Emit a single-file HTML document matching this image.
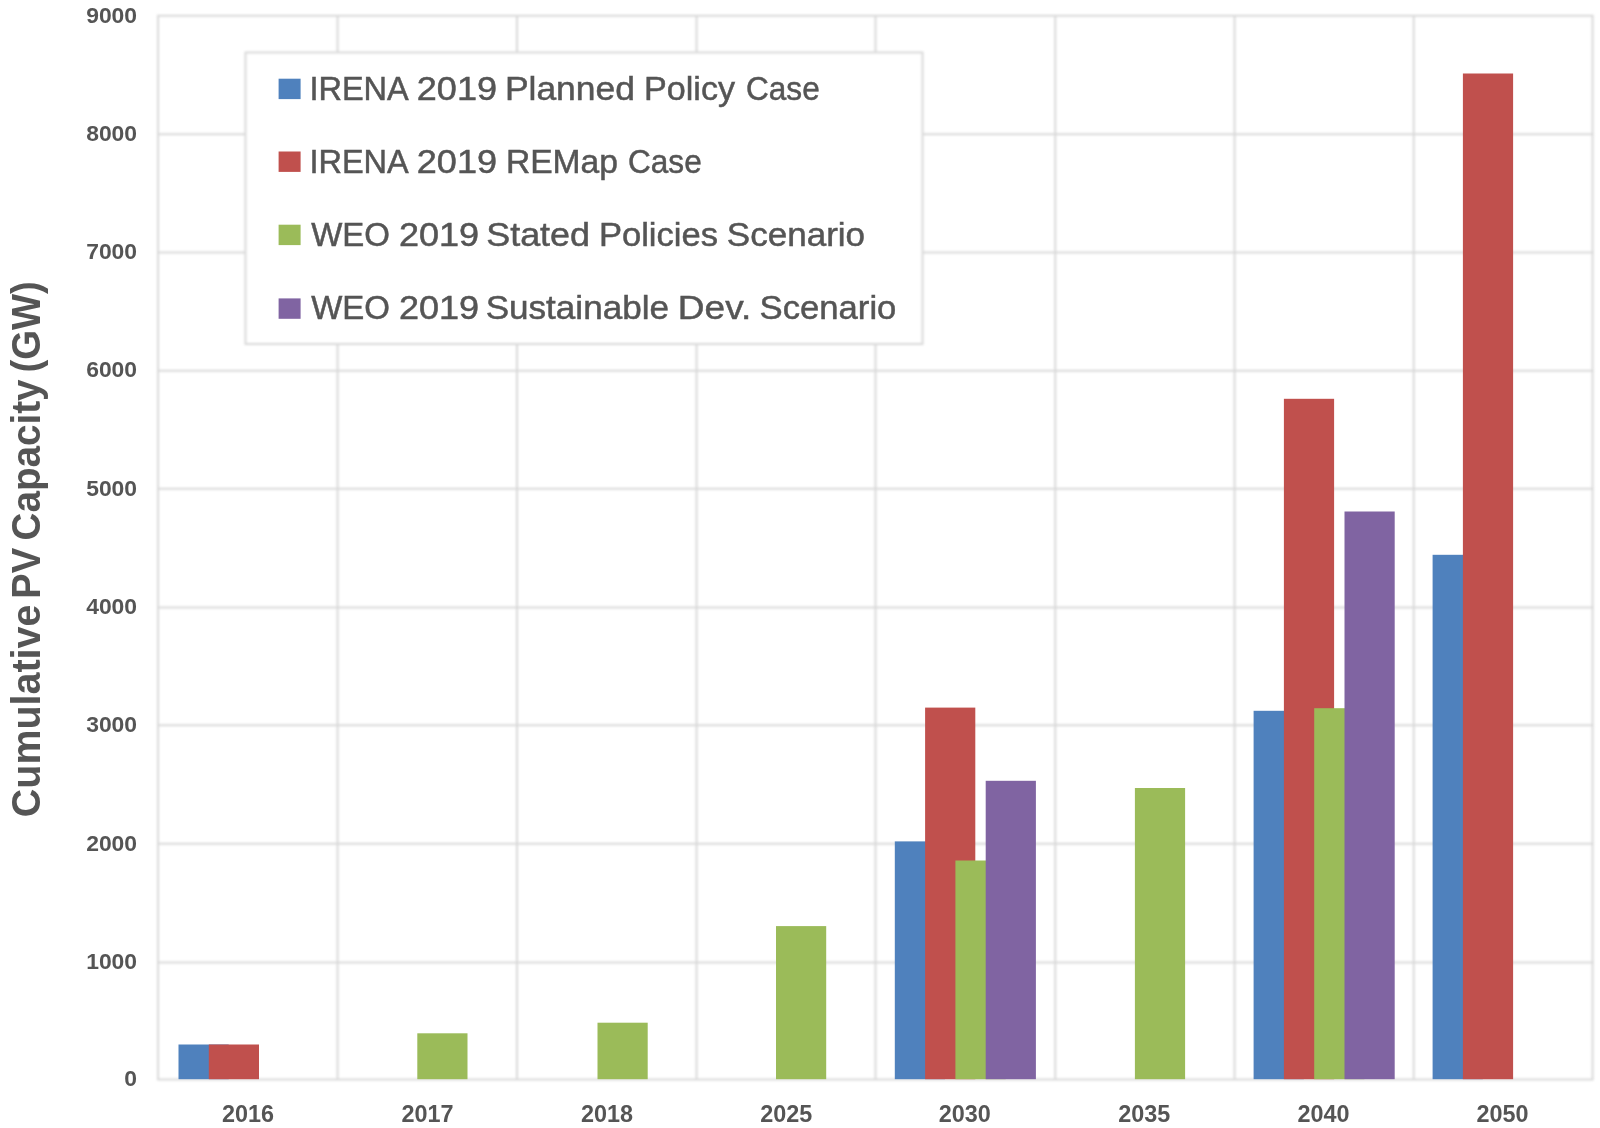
<!DOCTYPE html>
<html lang="en">
<head>
<meta charset="utf-8">
<title>Cumulative PV Capacity (GW)</title>
<style>
html,body{margin:0;padding:0;background:#fff;}
body{width:1600px;height:1128px;overflow:hidden;}
svg{display:block;}
#grid,#lbox{filter:blur(0.8px);}
#bars,#sw{filter:blur(0.6px);}
#yticks,#xticks,#ytitle,#ltext{filter:blur(0.7px);}
text{font-family:"Liberation Sans",sans-serif;fill:#555555;}
.tick{font-weight:bold;font-size:22.9px;}
.xt{font-weight:bold;font-size:23.4px;}
.leg{font-size:33.6px;stroke:#555555;stroke-width:0.5px;}
.yt{font-weight:bold;font-size:41px;}
</style>
</head>
<body>
<svg width="1600" height="1128" viewBox="0 0 1600 1128">
<rect x="0" y="0" width="1600" height="1128" fill="#ffffff"/>
<g id="chart">

<g id="grid" stroke="#d9d9d9" stroke-width="2" fill="none">
<line x1="157.1" y1="1079.6" x2="1593.5" y2="1079.6"/>
<line x1="157.1" y1="962.5" x2="1593.5" y2="962.5"/>
<line x1="157.1" y1="843.8" x2="1593.5" y2="843.8"/>
<line x1="157.1" y1="725.3" x2="1593.5" y2="725.3"/>
<line x1="157.1" y1="607.4" x2="1593.5" y2="607.4"/>
<line x1="157.1" y1="488.8" x2="1593.5" y2="488.8"/>
<line x1="157.1" y1="370.7" x2="1593.5" y2="370.7"/>
<line x1="157.1" y1="252.6" x2="1593.5" y2="252.6"/>
<line x1="157.1" y1="134.3" x2="1593.5" y2="134.3"/>
<line x1="157.1" y1="15.8" x2="1593.5" y2="15.8"/>
<line x1="158.1" y1="15.8" x2="158.1" y2="1079.6"/>
<line x1="337.6" y1="15.8" x2="337.6" y2="1079.6"/>
<line x1="517.0" y1="15.8" x2="517.0" y2="1079.6"/>
<line x1="696.6" y1="15.8" x2="696.6" y2="1079.6"/>
<line x1="875.5" y1="15.8" x2="875.5" y2="1079.6"/>
<line x1="1055.3" y1="15.8" x2="1055.3" y2="1079.6"/>
<line x1="1234.6" y1="15.8" x2="1234.6" y2="1079.6"/>
<line x1="1413.7" y1="15.8" x2="1413.7" y2="1079.6"/>
<line x1="1592.6" y1="15.8" x2="1592.6" y2="1079.6"/>
</g>
<g id="bars">
<rect x="178.5" y="1044.5" width="50.2" height="34.7" fill="#4f81bd"/>
<rect x="208.8" y="1044.5" width="50.2" height="34.7" fill="#c0504d"/>
<rect x="417.3" y="1033.3" width="50.2" height="45.9" fill="#9bbb59"/>
<rect x="597.5" y="1022.7" width="50.2" height="56.5" fill="#9bbb59"/>
<rect x="776.0" y="926.1" width="50.2" height="153.1" fill="#9bbb59"/>
<rect x="894.8" y="841.4" width="50.2" height="237.8" fill="#4f81bd"/>
<rect x="925.1" y="707.6" width="50.2" height="371.6" fill="#c0504d"/>
<rect x="955.4" y="860.5" width="50.2" height="218.7" fill="#9bbb59"/>
<rect x="985.7" y="780.8" width="50.2" height="298.4" fill="#8064a2"/>
<rect x="1134.9" y="788.0" width="50.2" height="291.2" fill="#9bbb59"/>
<rect x="1253.6" y="710.8" width="50.2" height="368.4" fill="#4f81bd"/>
<rect x="1283.9" y="398.8" width="50.2" height="680.4" fill="#c0504d"/>
<rect x="1314.2" y="708.2" width="50.2" height="371.0" fill="#9bbb59"/>
<rect x="1344.5" y="511.5" width="50.2" height="567.7" fill="#8064a2"/>
<rect x="1432.6" y="554.8" width="50.2" height="524.4" fill="#4f81bd"/>
<rect x="1462.9" y="73.5" width="50.2" height="1005.7" fill="#c0504d"/>
</g>
<g id="yticks" class="tick" text-anchor="end">
<text x="137.1" y="1086.3">0</text>
<text x="137.1" y="969.2">1000</text>
<text x="137.1" y="850.5">2000</text>
<text x="137.1" y="732.0">3000</text>
<text x="137.1" y="614.1">4000</text>
<text x="137.1" y="495.5">5000</text>
<text x="137.1" y="377.4">6000</text>
<text x="137.1" y="259.3">7000</text>
<text x="137.1" y="141.0">8000</text>
<text x="137.1" y="22.5">9000</text>
</g>
<g id="xticks" class="xt" text-anchor="middle">
<text x="248.1" y="1121.7">2016</text>
<text x="427.5" y="1121.7">2017</text>
<text x="607.0" y="1121.7">2018</text>
<text x="786.2" y="1121.7">2025</text>
<text x="964.7" y="1121.7">2030</text>
<text x="1144.2" y="1121.7">2035</text>
<text x="1323.5" y="1121.7">2040</text>
<text x="1502.5" y="1121.7">2050</text>
</g>
<g id="ytitle"><text class="yt" transform="rotate(-90)" y="40.3"><tspan x="-817.2" textLength="212.6" lengthAdjust="spacingAndGlyphs">Cumulative</tspan> <tspan x="-598.7" textLength="50.8" lengthAdjust="spacingAndGlyphs">PV</tspan> <tspan x="-540.4" textLength="161.0" lengthAdjust="spacingAndGlyphs">Capacity</tspan> <tspan x="-372.6" textLength="91.4" lengthAdjust="spacingAndGlyphs">(GW)</tspan></text></g>
<g id="legend">
<g id="lbox"><rect x="245.5" y="52.5" width="677" height="291.5" fill="#ffffff" stroke="#d9d9d9" stroke-width="2"/></g>
<g id="sw">
<rect x="278.6" y="78.7" width="22" height="20.4" fill="#4f81bd"/>
<rect x="278.6" y="151.5" width="22" height="20.4" fill="#c0504d"/>
<rect x="278.6" y="224.7" width="22" height="20.4" fill="#9bbb59"/>
<rect x="278.6" y="298.4" width="22" height="20.4" fill="#8064a2"/>
</g>
<g id="ltext">
<text class="leg" y="99.7"><tspan x="309.4" textLength="97.6" lengthAdjust="spacingAndGlyphs">IRENA</tspan> <tspan x="416.8" textLength="80.2" lengthAdjust="spacingAndGlyphs">2019</tspan> <tspan x="504.9" textLength="130.1" lengthAdjust="spacingAndGlyphs">Planned</tspan> <tspan x="644.0" textLength="91.0" lengthAdjust="spacingAndGlyphs">Policy</tspan> <tspan x="746.0" textLength="73.7" lengthAdjust="spacingAndGlyphs">Case</tspan></text>
<text class="leg" y="172.5"><tspan x="309.4" textLength="97.6" lengthAdjust="spacingAndGlyphs">IRENA</tspan> <tspan x="416.8" textLength="80.2" lengthAdjust="spacingAndGlyphs">2019</tspan> <tspan x="505.9" textLength="112.1" lengthAdjust="spacingAndGlyphs">REMap</tspan> <tspan x="628.0" textLength="73.7" lengthAdjust="spacingAndGlyphs">Case</tspan></text>
<text class="leg" y="245.7"><tspan x="311.2" textLength="78.8" lengthAdjust="spacingAndGlyphs">WEO</tspan> <tspan x="398.9" textLength="80.1" lengthAdjust="spacingAndGlyphs">2019</tspan> <tspan x="486.2" textLength="103.9" lengthAdjust="spacingAndGlyphs">Stated</tspan> <tspan x="598.9" textLength="119.1" lengthAdjust="spacingAndGlyphs">Policies</tspan> <tspan x="726.8" textLength="138.3" lengthAdjust="spacingAndGlyphs">Scenario</tspan></text>
<text class="leg" y="319.4"><tspan x="311.2" textLength="78.8" lengthAdjust="spacingAndGlyphs">WEO</tspan> <tspan x="398.9" textLength="80.1" lengthAdjust="spacingAndGlyphs">2019</tspan> <tspan x="485.7" textLength="183.3" lengthAdjust="spacingAndGlyphs">Sustainable</tspan> <tspan x="677.8" textLength="73.4" lengthAdjust="spacingAndGlyphs">Dev.</tspan> <tspan x="759.6" textLength="136.8" lengthAdjust="spacingAndGlyphs">Scenario</tspan></text>
</g>
</g>
</g>
</svg>
</body>
</html>
